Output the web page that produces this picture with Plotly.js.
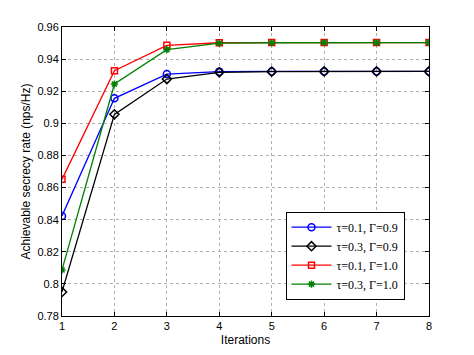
<!DOCTYPE html>
<html>
<head>
<meta charset="utf-8">
<script src="https://cdn.plot.ly/plotly-3.0.1.min.js"></script>
<style>html,body{margin:0;padding:0;background:#fff;}#chart{width:474px;height:355px;}</style>
</head>
<body>
<div id="chart"></div>
<script>
const iterations = [1, 2, 3, 4, 5, 6, 7, 8];
const tau01_G09 = [0.8423, 0.9156, 0.9307, 0.9322, 0.9323, 0.9323, 0.9323, 0.9323];
const tau03_G09 = [0.7950, 0.9056, 0.9276, 0.9318, 0.9322, 0.9323, 0.9323, 0.9323];
const tau01_G10 = [0.8651, 0.9328, 0.9486, 0.9502, 0.9503, 0.9503, 0.9503, 0.9503];
const tau03_G10 = [0.8087, 0.9245, 0.9459, 0.9499, 0.9502, 0.9503, 0.9503, 0.9503];
const seriesNames = ['τ=0.1, Γ=0.9', 'τ=0.3, Γ=0.9', 'τ=0.1, Γ=1.0', 'τ=0.3, Γ=1.0'];
const xTicks = [1, 2, 3, 4, 5, 6, 7, 8];
const yTicks = [0.78, 0.8, 0.82, 0.84, 0.86, 0.88, 0.9, 0.92, 0.94, 0.96];
const yTickText = ['0.78', '0.8', '0.82', '0.84', '0.86', '0.88', '0.9', '0.92', '0.94', '0.96'];

const styles = [
  {color: '#0000ff', symbol: 'circle-open', size: 7},
  {color: '#000000', symbol: 'diamond-open', size: 7},
  {color: '#ff0000', symbol: 'square-open', size: 6},
  {color: '#008000', symbol: 'asterisk-open', size: 6}
];
const ys = [tau01_G09, tau03_G09, tau01_G10, tau03_G10];
const traces = ys.map((y, i) => ({
  x: iterations, y: y, name: seriesNames[i], type: 'scatter', mode: 'lines+markers',
  line: {color: styles[i].color, width: 1.3},
  marker: {symbol: styles[i].symbol, size: styles[i].size, color: styles[i].color,
           line: {color: styles[i].color, width: 1.5}}
}));

const axisCommon = {
  showline: true, linecolor: '#000', linewidth: 1, mirror: 'ticks',
  ticks: 'inside', ticklen: 4, tickcolor: '#000',
  showgrid: true, gridcolor: '#b0b0b0', griddash: 'dot', gridwidth: 1,
  zeroline: false, tickfont: {family: 'Liberation Sans, Arial', size: 11, color: '#000'}
};

const layout = {
  width: 474, height: 355,
  margin: {l: 62, r: 45, t: 27, b: 39},
  paper_bgcolor: '#fff', plot_bgcolor: '#fff',
  showlegend: true,
  legend: {
    x: 0.609, y: 0.361, xanchor: 'left', yanchor: 'top',
    bgcolor: '#fff', bordercolor: '#000', borderwidth: 1,
    font: {family: 'Liberation Serif, Times New Roman', size: 12, color: '#000'},
    tracegroupgap: 0, itemwidth: 40
  },
  xaxis: Object.assign({}, axisCommon, {
    range: [1, 8], tickvals: xTicks,
    title: {text: 'Iterations', font: {family: 'Liberation Sans, Arial', size: 12, color: '#000'}, standoff: 4}
  }),
  yaxis: Object.assign({}, axisCommon, {
    range: [0.78, 0.96], tickvals: yTicks, ticktext: yTickText,
    title: {text: 'Achievable secrecy rate (nps/Hz)', font: {family: 'Liberation Sans, Arial', size: 12, color: '#000'}, standoff: 4}
  })
};

Plotly.newPlot('chart', traces, layout, {displayModeBar: false, staticPlot: true});
</script>
</body>
</html>
